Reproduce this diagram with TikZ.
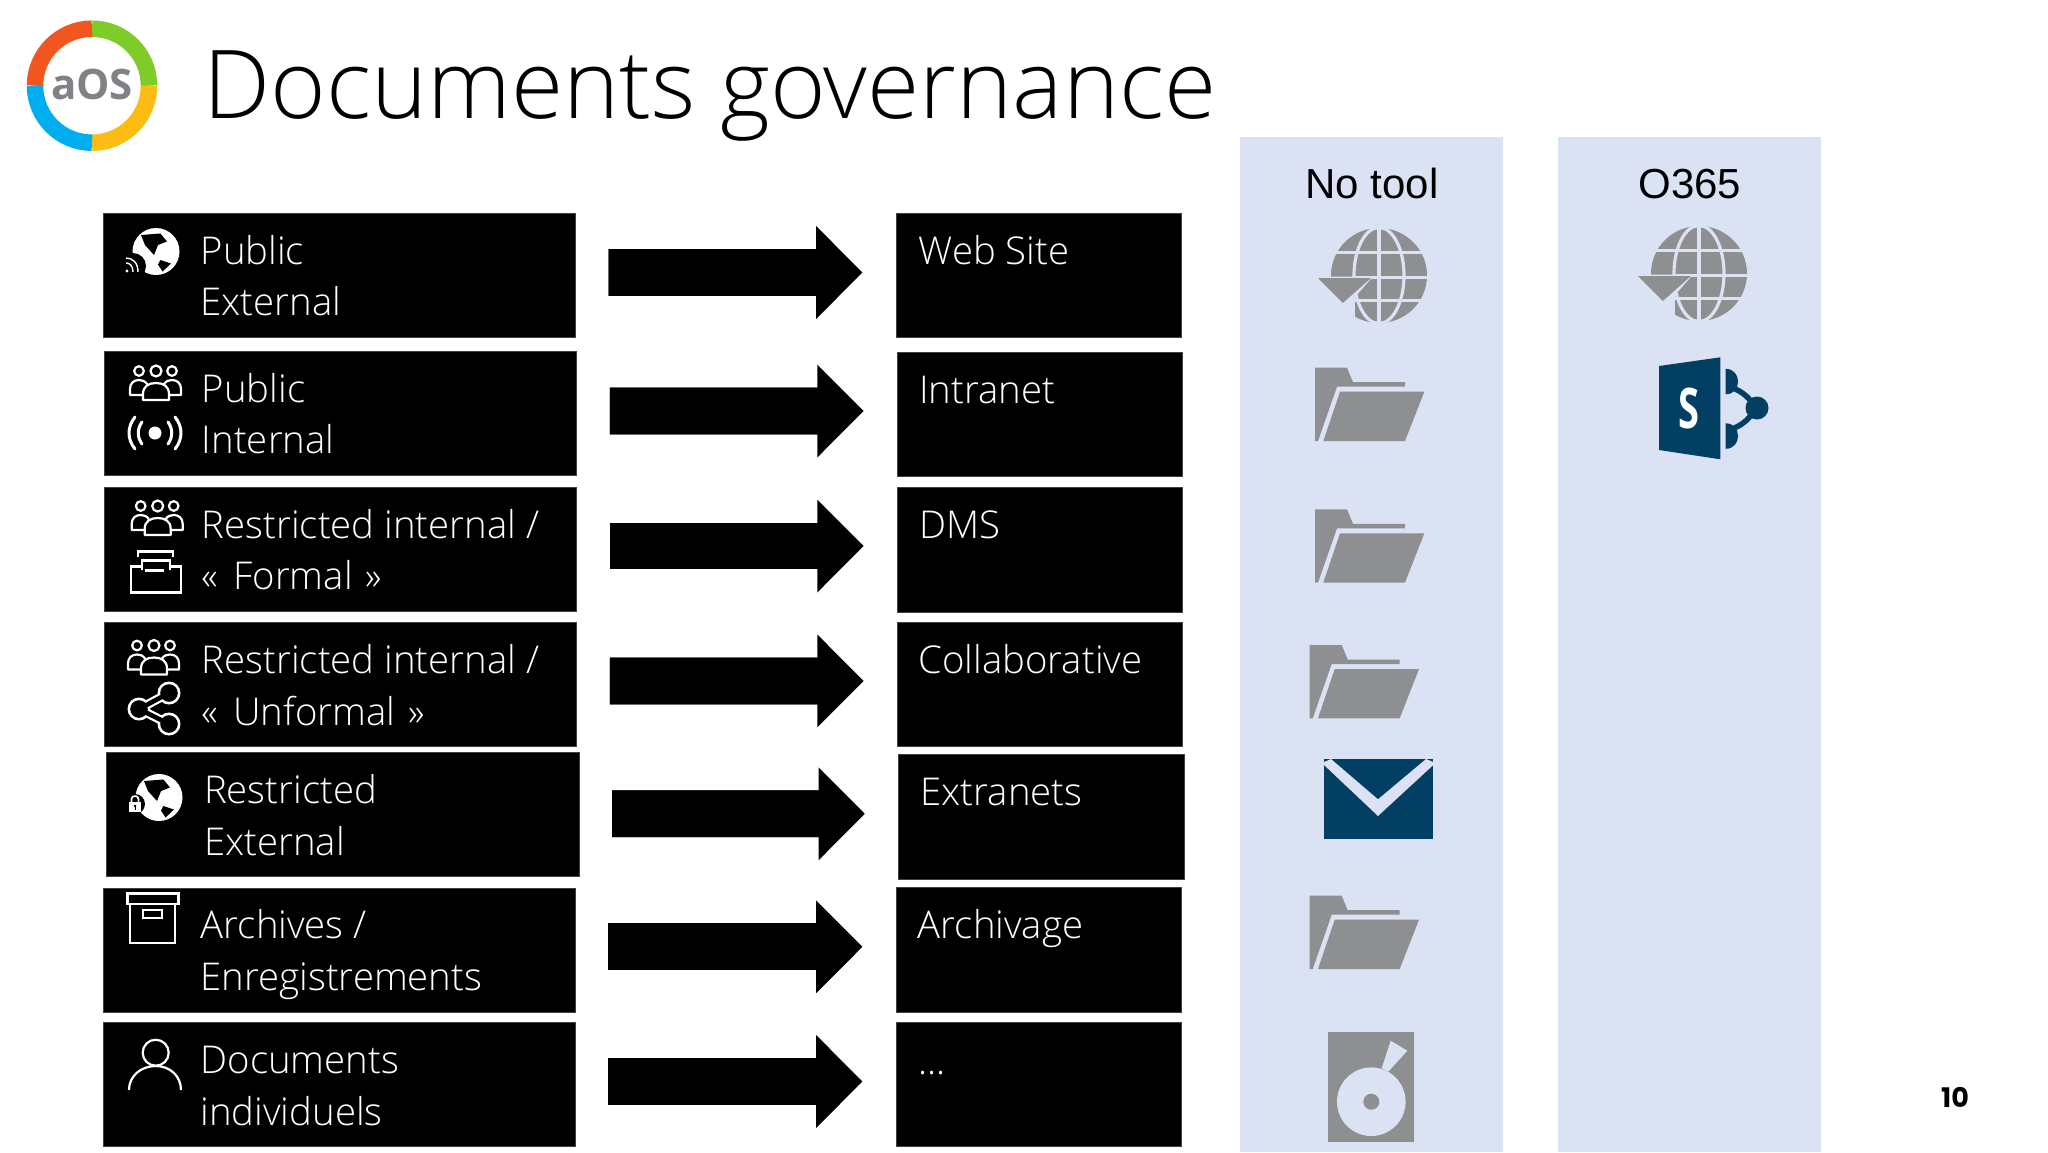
\documentclass[tikz,border=0pt]{standalone}
\usepackage{fontspec}
\usetikzlibrary{arrows.meta,calc}
\setmainfont{Open Sans}
\newfontfamily\lightf{Open Sans}[UprightFont=* Light]
\newfontfamily\regf{Open Sans}
\newfontfamily\arialf{Liberation Sans}
\newfontfamily\numf{Poppins}
\definecolor{panelc}{HTML}{DAE2F3}
\definecolor{greyc}{HTML}{8E8F91}
\definecolor{navyc}{HTML}{033F63}
\definecolor{aosred}{HTML}{F0561D}
\definecolor{aosgreen}{HTML}{7FCB27}
\definecolor{aosyellow}{HTML}{FDBC11}
\definecolor{aosblue}{HTML}{00ADEF}
\definecolor{aosgrey}{HTML}{808285}
\tikzset{
  blackbox/.style={fill=black,draw=black!75,line width=0.8pt,inner sep=0pt,rectangle},
  lbl/.style={anchor=base west,inner sep=0pt,text=white,font=\lightf\fontsize{38.3}{46}\selectfont},
  paneltitle/.style={anchor=base,inner sep=0pt,text=black,font=\arialf\fontsize{42}{50}\selectfont},
  panelbox/.style={fill=panelc,inner sep=0pt,rectangle},
  blockflow/.style={line width=46.7pt,draw=black,-{Triangle[length=46.2pt,width=92.7pt,fill=black,line width=0pt]}},
  blockshaft/.style={line width=46.7pt,draw=black,shorten >=43pt},
  icon/.style={draw=white,line width=2.2pt,line cap=round,line join=round},
  peopleicon/.pic={
    \draw[icon] (0,0) circle[radius=5.5] (-17,0) circle[radius=4.8] (16,0) circle[radius=4.8];
    \draw[icon] (-13,29) -- (-13,23) .. controls (-13,15) and (-7,12) .. (0,12) .. controls (7,12) and (13,15) .. (13,23) -- (13,29) -- cycle;
    \draw[icon] (-14,24) -- (-26,24) -- (-26,18) .. controls (-26,12) and (-22,9) .. (-17,9) .. controls (-14,9) and (-11,10) .. (-9,13);
    \draw[icon] (14,24) -- (25,24) -- (25,18) .. controls (25,12) and (21,9) .. (16,9) .. controls (13,9) and (10,10) .. (8,13);
  },
  broadcasticon/.pic={
    \fill[white] (0,0) circle[radius=6.5];
    \draw[icon,line width=3pt] (-13,-11) .. controls (-18,-4) and (-18,4) .. (-13,11);
    \draw[icon,line width=3pt] (13,-11) .. controls (18,-4) and (18,4) .. (13,11);
    \draw[icon,line width=3pt] (-20,-16) .. controls (-28,-6) and (-28,6) .. (-20,16);
    \draw[icon,line width=3pt] (20,-16) .. controls (28,-6) and (28,6) .. (20,16);
  },
  trayicon/.pic={
    \draw[icon,line cap=butt,line join=miter] (11,15) -- (0,15) -- (0,41) -- (50,41) -- (50,15) -- (40,15);
    \draw[icon,line cap=butt,line join=miter] (7,5) -- (7,0) -- (42,0) -- (42,5);
    \draw[icon,line cap=butt,line join=miter] (11,18) -- (11,9) -- (39,9) -- (39,18);
    \draw[icon,line cap=butt] (14,19) -- (33,19);
  },
  shareicon/.pic={
    \draw[white,line width=9pt] (30,0) -- (0,16) -- (30,31);
    \fill[white] (30,0) circle[radius=11.5] (0,16) circle[radius=11.5] (30,31) circle[radius=11.5];
    \draw[black,line width=4.6pt] (30,0) -- (0,16) -- (30,31);
    \fill[black] (30,0) circle[radius=8.8] (0,16) circle[radius=8.8] (30,31) circle[radius=8.8];
  },
  worldicon/.pic={
    \fill[white] (0,0) circle[radius=23.5];
    \fill[black] (-15,-16.5) -- (4.4,-18) -- (11,-10) -- (2,-6.5) -- (-2,3.5) -- (-11,-6.5) -- cycle;
    \fill[black] (4.4,8.5) -- (15,12) -- (6.6,20) -- (2,13) -- cycle;
  },
  wifimark/.pic={
    \fill[black] (0,0) circle[radius=13];
    \draw[icon,line width=1.4pt,line cap=butt] (-7,-8) .. controls (0,-8) and (5,-3) .. (5,6);
    \draw[icon,line width=1.4pt,line cap=butt] (-7,-3) .. controls (-3,-3) and (0,0) .. (0,6);
    \fill[white] (-6,5) circle[radius=1.6];
  },
  lockmark/.pic={
    \fill[black] (6,8) circle[radius=10];
    \draw[white,line width=1.6pt] (2.5,6) -- (2.5,3) .. controls (2.5,-1) and (9.5,-1) .. (9.5,3) -- (9.5,6);
    \fill[white] (0,6) rectangle (12,16);
    \fill[black] (6,10) circle[radius=1.4];
    \draw[black,line width=1pt] (6,10) -- (6,14);
  },
  foldericon/.pic={
    \fill[greyc] (0,0) -- (32,0) -- (38,14.5) -- (90,14.5) -- (90,19) -- (22,19) -- (3,73.3) -- (0,73.3) -- cycle;
    \fill[greyc] (25,24) -- (109.3,24) -- (90,73.3) -- (8.3,73.3) -- cycle;
  },
  webglobeicon/.pic={
    \fill[greyc] (0,0) ellipse[x radius=48,y radius=47.5];
    \fill[panelc] (-60,2.5) rectangle (-24,50);
    \fill[panelc] (40,28) -- (50,50) -- (10,50) .. controls (22,48) and (32,40) .. (40,28) -- cycle;
    \draw[panelc,line width=3.6pt] (0,-48) -- (0,48) (-48,-23) -- (48,-23) (-25,2) -- (48,2) (-40,25) -- (48,25);
    \draw[panelc,line width=3.2pt] (0,0) ellipse[x radius=25,y radius=48];
    \fill[panelc] (-6,1) -- (-34,33) -- (-62,1) -- cycle;
    \fill[greyc] (-61,2.5) -- (-8,2.5) -- (-36.2,27.5) -- cycle;
  },
  pointicon/.pic={
    \fill[navyc] (0,8.7) -- (61.4,0) -- (61.4,102) -- (0,92.7) -- cycle;
    \node[inner sep=0pt,text=white,font=\regf\bfseries\fontsize{56}{60}\selectfont,xscale=0.68] (spS) at (30,51) {S};
    \fill[navyc] (66.5,11.5) .. controls (75,11.5) and (79,18) .. (79,24) .. controls (79,31) and (75,37) .. (66.5,37) -- cycle;
    \fill[navyc] (66.5,66) .. controls (75,66) and (79,72) .. (79,79) .. controls (79,85) and (75,91.5) .. (66.5,91.5) -- cycle;
    \fill[navyc] (98,50.7) circle[radius=11.5];
    \draw[navyc,line width=5.5pt] (72,30) .. controls (84,34) and (92,42) .. (96,50.7) .. controls (92,60) and (84,68) .. (72,72);
  },
}
\newcommand\blk[5]{%
  \pgfmathsetmacro\cxv{(#2+#4)/2}\pgfmathsetmacro\cyv{(#3+#5)/2}%
  \pgfmathsetmacro\wv{#4-#2}\pgfmathsetmacro\hv{#5-#3}%
  \node[blackbox,minimum width=\wv pt,minimum height=\hv pt] (#1) at (\cxv,\cyv) {};}
\newcommand\twol[6]{%
  \node[lbl] (#1a) at (#2,#3) {#5};
  \node[lbl] (#1b) at (#2,#4) {#6};}
\newcommand\flowarrow[4]{%
  \draw[blockflow] ([shift={(32.7,#3)}]#1.east) -- ([shift={(-33.6,#4)}]#2.west);
  \draw[blockshaft] ([shift={(32.7,#3)}]#1.east) -- ([shift={(-33.6,#4)}]#2.west);}
\begin{document}
\begin{tikzpicture}[x=1pt,y=-1pt]
\useasboundingbox (0,0) rectangle (2048,1152);
\fill[white] (0,0) rectangle (2048,1152);
% logo
\begin{scope}[shift={(92,85.7)},y=1pt]
  \draw[line width=16.5pt,aosgreen] (90:57) arc[start angle=90,end angle=0,radius=57];
  \draw[line width=16.5pt,aosyellow] (0:57) arc[start angle=0,end angle=-90,radius=57];
  \draw[line width=16.5pt,aosblue] (-90:57) arc[start angle=-90,end angle=-180,radius=57];
  \draw[line width=16.5pt,aosred] (180:57) arc[start angle=180,end angle=90,radius=57];
\end{scope}
\node[anchor=base,inner sep=0pt,text=aosgrey,font=\regf\bfseries\fontsize{42}{50}\selectfont] (logotext) at (92,99) {aOS};
% title
\node[anchor=base west,inner sep=0pt,text=black,font=\lightf\fontsize{95}{100}\selectfont] (title) at (203.5,118) {Documents governance};
% panels
\node[panelbox,minimum width=263pt,minimum height=1015pt] (p1) at (1371.5,644.5) {};
\node[panelbox,minimum width=263pt,minimum height=1015pt] (p2) at (1689,644.5) {};
\node[paneltitle] (p1t) at (1372,198) {No tool};
\node[paneltitle] (p2t) at (1689.7,198) {O365};
% left boxes
\blk{a1}{103}{213}{575.5}{337.7}
\blk{a2}{104.5}{351}{576.7}{475}
\blk{a3}{104.3}{487}{576.7}{611.3}
\blk{a4}{104.3}{622.3}{576.7}{746.7}
\blk{a5}{106.3}{752.3}{579}{876.7}
\blk{a6}{103}{888}{575.3}{1012.7}
\blk{a7}{103}{1022.7}{575.3}{1146.7}
% right boxes
\blk{b1}{896.4}{213}{1181.5}{337}
\blk{b2}{897.6}{352}{1182.7}{476.7}
\blk{b3}{897.6}{487.5}{1182.7}{612}
\blk{b4}{897.6}{622}{1182.7}{745.9}
\blk{b5}{898.8}{754.7}{1184.7}{878.9}
\blk{b6}{896.4}{887.4}{1181.5}{1011.9}
\blk{b7}{896.4}{1022.4}{1181.5}{1146.6}
% arrows
\flowarrow{a1}{b1}{-2.85}{-2.5}
\flowarrow{a2}{b2}{-2}{-3.35}
\flowarrow{a3}{b3}{-3.15}{-3.75}
\flowarrow{a4}{b4}{-3.5}{-3}
\flowarrow{a5}{b5}{-0.7}{-3}
\flowarrow{a6}{b6}{-3.55}{-2.85}
\flowarrow{a7}{b7}{-3.2}{-3}
% left labels
\twol{t1}{200.5}{264}{315.5}{Public}{External}
\twol{t2}{201.7}{402.7}{453.7}{Public}{Internal}
\twol{t3}{201.7}{538}{589}{Restricted internal /}{« \hspace{5pt}Formal \hspace{3pt}»}
\twol{t4}{201.7}{673.7}{725.3}{Restricted internal /}{« \hspace{5pt}Unformal \hspace{3pt}»}
\twol{t5}{204}{803.7}{855}{Restricted}{External}
\twol{t6}{200.5}{938.8}{990}{Archives /}{Enregistrements}
\twol{t7}{200.5}{1073.5}{1125}{Documents}{individuels}
% right labels
\node[lbl] (r1) at (918.5,264) {Web Site};
\node[lbl] (r2) at (919,403) {Intranet};
\node[lbl] (r3) at (919,538) {DMS};
\node[lbl] (r4) at (918.5,673.6) {Collaborative};
\node[lbl] (r5) at (920.5,805.5) {Extranets};
\node[lbl] (r6) at (917.5,938.5) {Archivage};
\node[lbl] (r7) at (918,1074.5) {...};
% left icons
\pic (g1) at (156,251.5) {worldicon};
\pic (g1w) at (133,266) {wifimark};
\pic (pp2) at (156,371) {peopleicon};
\pic (bc2) at (155,433) {broadcasticon};
\pic (pp3) at (157.7,506) {peopleicon};
\pic (tr3) at (131,551.5) {trayicon};
\pic (pp4) at (154,645.5) {peopleicon};
\pic (sh4) at (139,693) {shareicon};
\pic (g5) at (159,797.5) {worldicon};
\pic (lk5) at (129,796) {lockmark};
\draw[icon,line cap=butt,line join=miter] (127.5,893.5) rectangle (178.5,904) (130,904) -- (130,943) -- (175,943) -- (175,904) (143,910) rectangle (162,918);
\draw[icon] (155.7,1052.7) circle[radius=13];
\draw[icon,line cap=butt] (129,1090) .. controls (129,1076) and (141,1066) .. (155.7,1066) .. controls (170,1066) and (181,1076) .. (181,1090);
% right icons
\pic (w1) at (1379,275.5) {webglobeicon};
\pic (w2) at (1699,273.5) {webglobeicon};
\pic (f2) at (1315,367.7) {foldericon};
\pic (f3) at (1315,509.3) {foldericon};
\pic (f4) at (1309.7,645) {foldericon};
\pic (f6) at (1309.7,895.7) {foldericon};
\fill[navyc] (1324,759) rectangle (1433.3,839.3);
\fill[panelc] (1324,762) -- (1331,759) -- (1378,799.3) -- (1426,759) -- (1433.3,762) -- (1433.3,765) -- (1378,816) -- (1324,765) -- cycle;
\fill[greyc] (1327.7,1032.3) rectangle (1414,1141.7);
\fill[panelc] (1371.3,1101.7) circle[radius=34.3];
\fill[panelc] (1390.7,1040.7) -- (1407.3,1050.7) -- (1388.3,1071.7) -- (1381.7,1068.3) -- cycle;
\fill[greyc] (1371.3,1101.7) circle[radius=8];
\pic (sp) at (1659,357.3) {pointicon};
% page number
\node[anchor=base,inner sep=0pt,text=black,font=\numf\bfseries\fontsize{27}{30}\selectfont] (pageno) at (1955,1107) {10};
\end{tikzpicture}
\end{document}
